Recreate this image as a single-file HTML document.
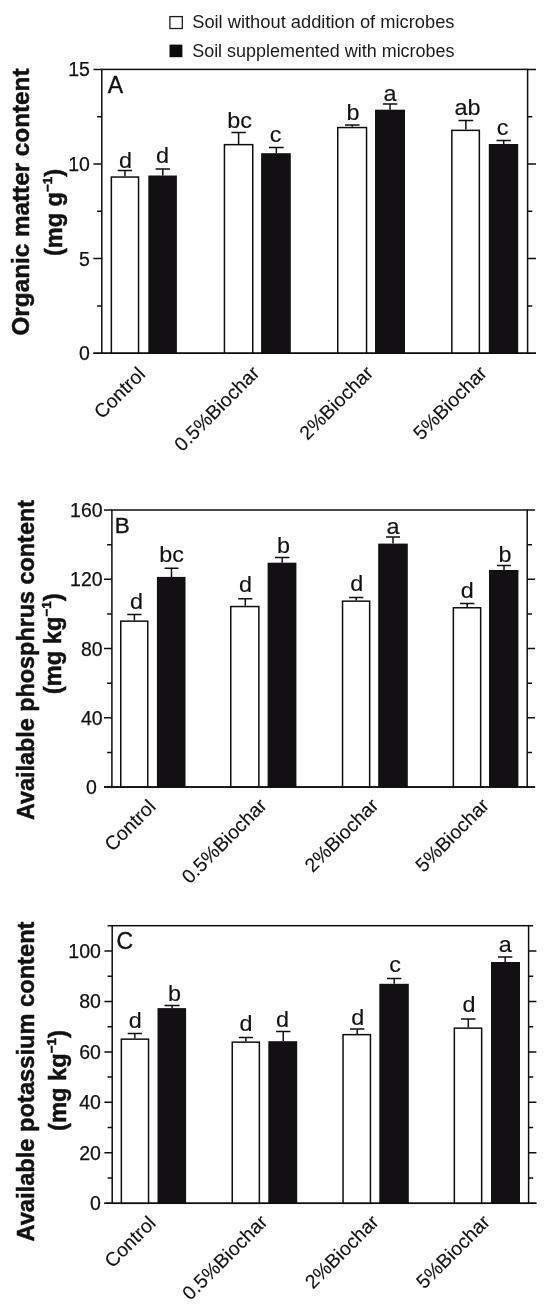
<!DOCTYPE html><html><head><meta charset="utf-8"><title>Figure</title><style>html,body{margin:0;padding:0;background:#fff;}svg{display:block;}</style></head><body>
<svg width="550" height="1306" viewBox="0 0 550 1306">
<rect width="550" height="1306" fill="#fff"/>
<g font-family="'Liberation Sans', Arial, sans-serif" font-size="17.5" fill="#1a1a1a">
<rect x="169.9" y="16.6" width="12.4" height="11.9" fill="#fff" stroke="#1e1e1e" stroke-width="1.3"/>
<text x="192.2" y="28.3" textLength="262.3" lengthAdjust="spacingAndGlyphs">Soil without addition of microbes</text>
<rect x="169.5" y="44.6" width="12.9" height="12.6" fill="#0a0a0a"/>
<text x="192.2" y="56.8" textLength="262.3" lengthAdjust="spacingAndGlyphs">Soil supplemented with microbes</text>
</g>
<g stroke="#0e0e0e" stroke-width="1.5" fill="none">
<rect x="101.8" y="69.4" width="425.8" height="283.8"/>
<path d="M93.4 353.2H101.8M527.6 353.2H536M93.4 258.6H101.8M527.6 258.6H536M93.4 164H101.8M527.6 164H536M93.4 69.4H101.8M527.6 69.4H536M97.1 305.9H101.8M527.6 305.9H532.3M97.1 211.3H101.8M527.6 211.3H532.3M97.1 116.7H101.8M527.6 116.7H532.3"/>
</g>
<rect x="111.35" y="177.05" width="27.2" height="176.15" fill="#fff" stroke="#0e0e0e" stroke-width="1.5"/>
<path d="M124.95 176.3V170.4M117.7 170.4H132.2" stroke="#0e0e0e" stroke-width="1.5" fill="none"/>
<rect x="148.3" y="175.5" width="28.6" height="177.7" fill="#121012"/>
<path d="M162.8 175.5V169M155.6 169H170" stroke="#0e0e0e" stroke-width="1.5" fill="none"/>
<rect x="224.45" y="144.65" width="28.3" height="208.55" fill="#fff" stroke="#0e0e0e" stroke-width="1.5"/>
<path d="M238.6 143.9V132.4M231.4 132.4H245.8" stroke="#0e0e0e" stroke-width="1.5" fill="none"/>
<rect x="261.1" y="153.2" width="29.7" height="200" fill="#121012"/>
<path d="M276.35 153.2V147.5M269 147.5H283.7" stroke="#0e0e0e" stroke-width="1.5" fill="none"/>
<rect x="337.75" y="127.55" width="28.8" height="225.65" fill="#fff" stroke="#0e0e0e" stroke-width="1.5"/>
<path d="M352.25 126.8V124.9M345 124.9H359.5" stroke="#0e0e0e" stroke-width="1.5" fill="none"/>
<rect x="375" y="109.7" width="30" height="243.5" fill="#121012"/>
<path d="M390.05 109.7V104M382.8 104H397.3" stroke="#0e0e0e" stroke-width="1.5" fill="none"/>
<rect x="451.85" y="130.35" width="27.5" height="222.85" fill="#fff" stroke="#0e0e0e" stroke-width="1.5"/>
<path d="M465.85 129.6V120.4M458.5 120.4H473.2" stroke="#0e0e0e" stroke-width="1.5" fill="none"/>
<rect x="488.8" y="144" width="29.4" height="209.2" fill="#121012"/>
<path d="M503.7 144V140.4M496.5 140.4H510.9" stroke="#0e0e0e" stroke-width="1.5" fill="none"/>
<path d="M93.4 353.2H536" stroke="#0e0e0e" stroke-width="1.5"/>
<g font-family="'Liberation Sans', Arial, sans-serif" fill="#111" stroke="#111" stroke-width="0.35">
<text x="89.9" y="360.2" font-size="19.5" stroke-width="0.25" text-anchor="end">0</text>
<text x="89.9" y="265.6" font-size="19.5" stroke-width="0.25" text-anchor="end">5</text>
<text x="89.9" y="171" font-size="19.5" stroke-width="0.25" text-anchor="end">10</text>
<text x="89.9" y="76.4" font-size="19.5" stroke-width="0.25" text-anchor="end">15</text>
<text x="107.8" y="92.9" font-size="23">A</text>
<text transform="translate(125.5 167.8) scale(1.04 1)" font-size="22.5" stroke-width="0.15" text-anchor="middle">d</text>
<text transform="translate(162.6 162.9) scale(1.04 1)" font-size="22.5" stroke-width="0.15" text-anchor="middle">d</text>
<text transform="translate(239.6 128.1) scale(1.04 1)" font-size="22.5" stroke-width="0.15" text-anchor="middle">bc</text>
<text transform="translate(275.5 142.2) scale(1.04 1)" font-size="22.5" stroke-width="0.15" text-anchor="middle">c</text>
<text transform="translate(352.9 120) scale(1.04 1)" font-size="22.5" stroke-width="0.15" text-anchor="middle">b</text>
<text transform="translate(389.9 100.5) scale(1.04 1)" font-size="22.5" stroke-width="0.15" text-anchor="middle">a</text>
<text transform="translate(467.4 115.4) scale(1.04 1)" font-size="22.5" stroke-width="0.15" text-anchor="middle">ab</text>
<text transform="translate(502.7 135) scale(1.04 1)" font-size="22.5" stroke-width="0.15" text-anchor="middle">c</text>
<text x="146.45" y="375.4" font-size="19.5" stroke-width="0.15" text-anchor="end" transform="rotate(-45 146.45 375.4)">Control</text>
<text x="260.55" y="374.2" font-size="19.5" stroke-width="0.15" text-anchor="end" transform="rotate(-45 260.55 374.2)">0.5%Biochar</text>
<text x="374.3" y="374.2" font-size="19.5" stroke-width="0.15" text-anchor="end" transform="rotate(-45 374.3 374.2)">2%Biochar</text>
<text x="487.95" y="374.2" font-size="19.5" stroke-width="0.15" text-anchor="end" transform="rotate(-45 487.95 374.2)">5%Biochar</text>
</g>
<g font-family="'Liberation Sans', Arial, sans-serif" font-weight="bold" font-size="23" fill="#111" stroke="#111" stroke-width="0.5">
<text x="29.3" y="335.5" transform="rotate(-90 29.3 335.5)" textLength="267" lengthAdjust="spacingAndGlyphs">Organic matter content</text>
<text x="61.9" y="256" transform="rotate(-90 61.9 256)" textLength="87" lengthAdjust="spacingAndGlyphs">(mg g<tspan font-size="13" dy="-10">−1</tspan><tspan dy="10">)</tspan></text>
</g>
<g stroke="#0e0e0e" stroke-width="1.5" fill="none">
<rect x="111.9" y="510" width="415.3" height="277.1"/>
<path d="M104 787.1H111.9M527.2 787.1H535.1M104 717.83H111.9M527.2 717.83H535.1M104 648.55H111.9M527.2 648.55H535.1M104 579.28H111.9M527.2 579.28H535.1M104 510H111.9M527.2 510H535.1M107.1 752.46H111.9M527.2 752.46H532M107.1 683.19H111.9M527.2 683.19H532M107.1 613.91H111.9M527.2 613.91H532M107.1 544.64H111.9M527.2 544.64H532"/>
</g>
<rect x="120.75" y="621.15" width="27" height="165.95" fill="#fff" stroke="#0e0e0e" stroke-width="1.5"/>
<path d="M134.4 620.4V614.5M127.3 614.5H141.5" stroke="#0e0e0e" stroke-width="1.5" fill="none"/>
<rect x="156.9" y="576.9" width="28.6" height="210.2" fill="#121012"/>
<path d="M171.5 576.9V568.2M164.5 568.2H178.5" stroke="#0e0e0e" stroke-width="1.5" fill="none"/>
<rect x="230.75" y="606.55" width="28.1" height="180.55" fill="#fff" stroke="#0e0e0e" stroke-width="1.5"/>
<path d="M245.3 605.8V598.7M238.2 598.7H252.4" stroke="#0e0e0e" stroke-width="1.5" fill="none"/>
<rect x="267.6" y="562.7" width="28.8" height="224.4" fill="#121012"/>
<path d="M282.2 562.7V557.6M274.9 557.6H289.5" stroke="#0e0e0e" stroke-width="1.5" fill="none"/>
<rect x="342.55" y="601.15" width="27.1" height="185.95" fill="#fff" stroke="#0e0e0e" stroke-width="1.5"/>
<path d="M356.2 600.4V597.6M349.1 597.6H363.3" stroke="#0e0e0e" stroke-width="1.5" fill="none"/>
<rect x="378.2" y="543.6" width="29.6" height="243.5" fill="#121012"/>
<path d="M393 543.6V536.9M386 536.9H400" stroke="#0e0e0e" stroke-width="1.5" fill="none"/>
<rect x="453.35" y="607.75" width="27.3" height="179.35" fill="#fff" stroke="#0e0e0e" stroke-width="1.5"/>
<path d="M467.2 607V603.6M460 603.6H474.4" stroke="#0e0e0e" stroke-width="1.5" fill="none"/>
<rect x="489" y="570" width="29.4" height="217.1" fill="#121012"/>
<path d="M504 570V565.6M497 565.6H511" stroke="#0e0e0e" stroke-width="1.5" fill="none"/>
<path d="M104 787.1H535.1" stroke="#0e0e0e" stroke-width="1.5"/>
<g font-family="'Liberation Sans', Arial, sans-serif" fill="#111" stroke="#111" stroke-width="0.35">
<text x="96.9" y="794.1" font-size="19.5" stroke-width="0.25" text-anchor="end">0</text>
<text x="102.6" y="724.83" font-size="19.5" stroke-width="0.25" text-anchor="end">40</text>
<text x="102.6" y="655.55" font-size="19.5" stroke-width="0.25" text-anchor="end">80</text>
<text x="102.6" y="586.28" font-size="19.5" stroke-width="0.25" text-anchor="end">120</text>
<text x="102.6" y="517" font-size="19.5" stroke-width="0.25" text-anchor="end">160</text>
<text x="114.8" y="533.1" font-size="22.5">B</text>
<text transform="translate(136.5 608.7) scale(1.04 1)" font-size="22.5" stroke-width="0.15" text-anchor="middle">d</text>
<text transform="translate(171.6 562.4) scale(1.04 1)" font-size="22.5" stroke-width="0.15" text-anchor="middle">bc</text>
<text transform="translate(245.6 592.4) scale(1.04 1)" font-size="22.5" stroke-width="0.15" text-anchor="middle">d</text>
<text transform="translate(283.6 553.1) scale(1.04 1)" font-size="22.5" stroke-width="0.15" text-anchor="middle">b</text>
<text transform="translate(356.8 590.9) scale(1.04 1)" font-size="22.5" stroke-width="0.15" text-anchor="middle">d</text>
<text transform="translate(393 533.6) scale(1.04 1)" font-size="22.5" stroke-width="0.15" text-anchor="middle">a</text>
<text transform="translate(467.3 597.6) scale(1.04 1)" font-size="22.5" stroke-width="0.15" text-anchor="middle">d</text>
<text transform="translate(505 562) scale(1.04 1)" font-size="22.5" stroke-width="0.15" text-anchor="middle">b</text>
<text x="156.85" y="807.8" font-size="19.5" stroke-width="0.15" text-anchor="end" transform="rotate(-45 156.85 807.8)">Control</text>
<text x="267.9" y="806.6" font-size="19.5" stroke-width="0.15" text-anchor="end" transform="rotate(-45 267.9 806.6)">0.5%Biochar</text>
<text x="379.5" y="806.6" font-size="19.5" stroke-width="0.15" text-anchor="end" transform="rotate(-45 379.5 806.6)">2%Biochar</text>
<text x="490.2" y="806.6" font-size="19.5" stroke-width="0.15" text-anchor="end" transform="rotate(-45 490.2 806.6)">5%Biochar</text>
</g>
<g font-family="'Liberation Sans', Arial, sans-serif" font-weight="bold" font-size="23" fill="#111" stroke="#111" stroke-width="0.5">
<text x="33.7" y="820" transform="rotate(-90 33.7 820)" textLength="320" lengthAdjust="spacingAndGlyphs">Available phosphrus content</text>
<text x="61.3" y="694.3" transform="rotate(-90 61.3 694.3)" textLength="101" lengthAdjust="spacingAndGlyphs">(mg kg<tspan font-size="13" dy="-10">−1</tspan><tspan dy="10">)</tspan></text>
</g>
<g stroke="#0e0e0e" stroke-width="1.5" fill="none">
<rect x="112.2" y="925.7" width="416.4" height="277.6"/>
<path d="M104.4 1203.3H112.2M528.6 1203.3H536.4M104.4 1152.83H112.2M528.6 1152.83H536.4M104.4 1102.35H112.2M528.6 1102.35H536.4M104.4 1051.88H112.2M528.6 1051.88H536.4M104.4 1001.41H112.2M528.6 1001.41H536.4M104.4 950.94H112.2M528.6 950.94H536.4M107.6 1178.06H112.2M528.6 1178.06H533.2M107.6 1127.59H112.2M528.6 1127.59H533.2M107.6 1077.12H112.2M528.6 1077.12H533.2M107.6 1026.65H112.2M528.6 1026.65H533.2M107.6 976.17H112.2M528.6 976.17H533.2M107.6 925.7H112.2M528.6 925.7H533.2"/>
</g>
<rect x="121.35" y="1039.15" width="27.2" height="164.15" fill="#fff" stroke="#0e0e0e" stroke-width="1.5"/>
<path d="M134.8 1038.4V1033.5M127.7 1033.5H141.9" stroke="#0e0e0e" stroke-width="1.5" fill="none"/>
<rect x="157.5" y="1008.1" width="28.6" height="195.2" fill="#121012"/>
<path d="M172.05 1008.1V1005.4M164.5 1005.4H179.6" stroke="#0e0e0e" stroke-width="1.5" fill="none"/>
<rect x="232.25" y="1042.15" width="27.1" height="161.15" fill="#fff" stroke="#0e0e0e" stroke-width="1.5"/>
<path d="M245.9 1041.4V1037.6M238.8 1037.6H253" stroke="#0e0e0e" stroke-width="1.5" fill="none"/>
<rect x="268.3" y="1041.2" width="28.9" height="162.1" fill="#121012"/>
<path d="M283.25 1041.2V1031.6M276.1 1031.6H290.4" stroke="#0e0e0e" stroke-width="1.5" fill="none"/>
<rect x="343.05" y="1034.65" width="27.4" height="168.65" fill="#fff" stroke="#0e0e0e" stroke-width="1.5"/>
<path d="M357.2 1033.9V1029M350 1029H364.4" stroke="#0e0e0e" stroke-width="1.5" fill="none"/>
<rect x="379.3" y="983.8" width="29.5" height="219.5" fill="#121012"/>
<path d="M394.2 983.8V978.4M387 978.4H401.4" stroke="#0e0e0e" stroke-width="1.5" fill="none"/>
<rect x="454.35" y="1028.15" width="27.3" height="175.15" fill="#fff" stroke="#0e0e0e" stroke-width="1.5"/>
<path d="M468.3 1027.4V1019M461 1019H475.6" stroke="#0e0e0e" stroke-width="1.5" fill="none"/>
<rect x="491" y="962" width="29" height="241.3" fill="#121012"/>
<path d="M505.2 962V957M498 957H512.4" stroke="#0e0e0e" stroke-width="1.5" fill="none"/>
<path d="M104.4 1203.3H536.4" stroke="#0e0e0e" stroke-width="1.5"/>
<g font-family="'Liberation Sans', Arial, sans-serif" fill="#111" stroke="#111" stroke-width="0.35">
<text x="100.9" y="1210.3" font-size="19.5" stroke-width="0.25" text-anchor="end">0</text>
<text x="100.9" y="1159.83" font-size="19.5" stroke-width="0.25" text-anchor="end">20</text>
<text x="100.9" y="1109.35" font-size="19.5" stroke-width="0.25" text-anchor="end">40</text>
<text x="100.9" y="1058.88" font-size="19.5" stroke-width="0.25" text-anchor="end">60</text>
<text x="100.9" y="1008.41" font-size="19.5" stroke-width="0.25" text-anchor="end">80</text>
<text x="100.9" y="957.94" font-size="19.5" stroke-width="0.25" text-anchor="end">100</text>
<text x="116.6" y="949.1" font-size="23">C</text>
<text transform="translate(135.2 1027.8) scale(1.04 1)" font-size="22.5" stroke-width="0.15" text-anchor="middle">d</text>
<text transform="translate(174.4 1000.5) scale(1.04 1)" font-size="22.5" stroke-width="0.15" text-anchor="middle">b</text>
<text transform="translate(246.1 1031.1) scale(1.04 1)" font-size="22.5" stroke-width="0.15" text-anchor="middle">d</text>
<text transform="translate(282.6 1027) scale(1.04 1)" font-size="22.5" stroke-width="0.15" text-anchor="middle">d</text>
<text transform="translate(357.8 1024.9) scale(1.04 1)" font-size="22.5" stroke-width="0.15" text-anchor="middle">d</text>
<text transform="translate(395 972) scale(1.04 1)" font-size="22.5" stroke-width="0.15" text-anchor="middle">c</text>
<text transform="translate(469 1012.4) scale(1.04 1)" font-size="22.5" stroke-width="0.15" text-anchor="middle">d</text>
<text transform="translate(505.3 951.6) scale(1.04 1)" font-size="22.5" stroke-width="0.15" text-anchor="middle">a</text>
<text x="156.95" y="1224.3" font-size="19.5" stroke-width="0.15" text-anchor="end" transform="rotate(-45 156.95 1224.3)">Control</text>
<text x="268.55" y="1223.1" font-size="19.5" stroke-width="0.15" text-anchor="end" transform="rotate(-45 268.55 1223.1)">0.5%Biochar</text>
<text x="379.75" y="1223.1" font-size="19.5" stroke-width="0.15" text-anchor="end" transform="rotate(-45 379.75 1223.1)">2%Biochar</text>
<text x="491" y="1223.1" font-size="19.5" stroke-width="0.15" text-anchor="end" transform="rotate(-45 491 1223.1)">5%Biochar</text>
</g>
<g font-family="'Liberation Sans', Arial, sans-serif" font-weight="bold" font-size="23" fill="#111" stroke="#111" stroke-width="0.5">
<text x="34.2" y="1241.5" transform="rotate(-90 34.2 1241.5)" textLength="320" lengthAdjust="spacingAndGlyphs">Available potassium content</text>
<text x="66.2" y="1131" transform="rotate(-90 66.2 1131)" textLength="101" lengthAdjust="spacingAndGlyphs">(mg kg<tspan font-size="13" dy="-10">−1</tspan><tspan dy="10">)</tspan></text>
</g>
</svg></body></html>
